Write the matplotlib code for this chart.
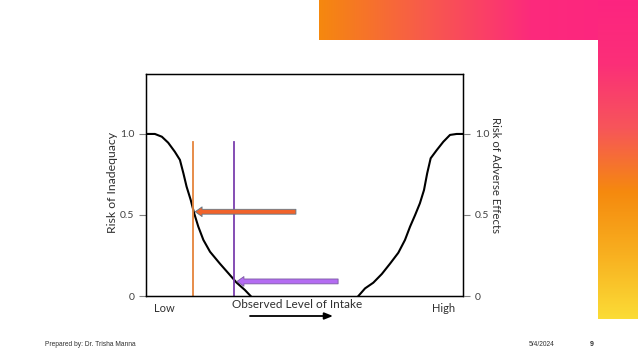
import numpy as np
import matplotlib
matplotlib.use('Agg')
import matplotlib.pyplot as plt
from matplotlib.colors import LinearSegmentedColormap

# Datos (x: 0 = Low, 100 = High)
x_inad = [0, 2.8, 5.0, 7.0, 9.1, 10.7, 11.8, 12.8, 14.1, 15.2, 16.5, 18.1, 20.2, 23.3, 26.0, 28.6, 31.2, 33.0]
y_inad = [1.0, 1.0, 0.983, 0.946, 0.89, 0.84, 0.757, 0.675, 0.593, 0.51, 0.428, 0.346, 0.273, 0.20, 0.14, 0.082, 0.037, 0.0]
x_adv = [67.0, 69.1, 71.7, 74.4, 77.0, 79.6, 81.7, 83.3, 84.9, 86.4, 87.7, 88.7, 89.8, 91.7, 93.8, 95.9, 98.0, 100]
y_adv = [0.0, 0.047, 0.082, 0.136, 0.20, 0.267, 0.346, 0.428, 0.50, 0.572, 0.654, 0.757, 0.85, 0.90, 0.952, 0.994, 1.0, 1.0]
ear_x = 14.8
rda_x = 27.8
ref_top = 0.95
ear_arrow = (47.3, 15.5, 0.52)   # inicio x, fin x, nivel y
rda_arrow = (60.6, 28.7, 0.09)
ticks = [0, 0.5, 1.0]
tick_labels = ['0', '0.5', '1.0']

W, H = 638, 359
fig = plt.figure(figsize=(W / 100, H / 100), dpi=100)

# fondo con las bandas de degradado
bg = fig.add_axes([0, 0, 1, 1])
bg.set_xlim(0, W)
bg.set_ylim(H, 0)
bg.axis('off')
cm_top = LinearSegmentedColormap.from_list('top', ['#f5880e', '#f85a4c', '#fc2a7c', '#fd2480'])
cm_side = LinearSegmentedColormap.from_list('side', ['#fd2480', '#fb2f78', '#f7555a', '#f5890e', '#f8b020', '#fbdc36'])
bg.imshow(np.linspace(0, 1, 256)[None, :], cmap=cm_top, aspect='auto', extent=(319, 638, 40, 0))
bg.imshow(np.linspace(0, 1, 256)[:, None], cmap=cm_side, aspect='auto', extent=(598, 638, 319, 0))

ff = ['Lato', 'DejaVu Sans']

ax = fig.add_axes([146 / W, 1 - 296 / H, 317 / W, 222 / H])
ax.set_xlim(0, 100)
ax.set_ylim(0, 1.37)
ax.plot(x_inad, y_inad, color='black', lw=1.5, solid_joinstyle='round')
ax.plot(x_adv, y_adv, color='black', lw=1.5, solid_joinstyle='round')
ax.plot([ear_x, ear_x], [0, ref_top], color='#e5843c', lw=1.3)
ax.plot([rda_x, rda_x], [0, ref_top], color='#7b3fae', lw=1.3)

for (x0, x1, yy), fc, ec in [(ear_arrow, '#f1632b', '#5f7888'), (rda_arrow, '#b46cf2', '#7a5aa2')]:
    ax.annotate('', xy=(x1, yy), xytext=(x0, yy),
                arrowprops=dict(arrowstyle='simple,head_width=0.7,head_length=0.5,tail_width=0.35',
                                fc=fc, ec=ec, lw=0.6, shrinkA=0, shrinkB=0, mutation_scale=10))

ax.set_xticks([])
ax.set_yticks(ticks)
ax.set_yticklabels(tick_labels, family=ff, fontsize=7.5, color='#404040')
ax.tick_params(axis='y', length=5, color='#808080', width=0.8)
for s in ax.spines.values():
    s.set_color('black')
    s.set_linewidth(1.0)
ax2 = ax.twinx()
ax2.set_ylim(0, 1.37)
ax2.set_yticks(ticks)
ax2.set_yticklabels(tick_labels, family=ff, fontsize=7.5, color='#404040')
ax2.tick_params(axis='y', length=5, color='#808080', width=0.8)

bg.text(195, 123, 'EAR', color='#e5843c', fontsize=10, family=ff, ha='center', va='center')
bg.text(236, 123, 'RDA', color='#7b3fae', fontsize=10, family=ff, ha='center', va='center')
bg.text(112, 182, 'Risk of Inadequacy', rotation=90, fontsize=8.8, family=ff, color='#303030', ha='center', va='center')
bg.text(495, 175, 'Risk of Adverse Effects', rotation=270, fontsize=8.2, family=ff, color='#303030', ha='center', va='center')
bg.text(164, 309, 'Low', fontsize=8, family=ff, color='#303030', ha='center', va='center')
bg.text(444, 309, 'High', fontsize=8, family=ff, color='#303030', ha='center', va='center')
bg.text(297, 305, 'Observed Level of Intake', fontsize=8.5, family=ff, color='#303030', ha='center', va='center')
bg.annotate('', xy=(333, 316), xytext=(250, 316),
            arrowprops=dict(arrowstyle='-|>,head_width=0.2,head_length=0.5', color='black', lw=1.3, shrinkA=0, shrinkB=0))

bg.text(45, 345, 'Prepared by: Dr. Trisha Manna', fontsize=4.8, family='Liberation Sans', color='#303030', va='center')
bg.text(529, 345, '5/4/2024', fontsize=4.8, family='Liberation Sans', color='#303030', va='center')
bg.text(590, 345, '9', fontsize=5, family='Liberation Sans', color='#303030', va='center', weight='bold')

plt.savefig('out.png', dpi=100)
